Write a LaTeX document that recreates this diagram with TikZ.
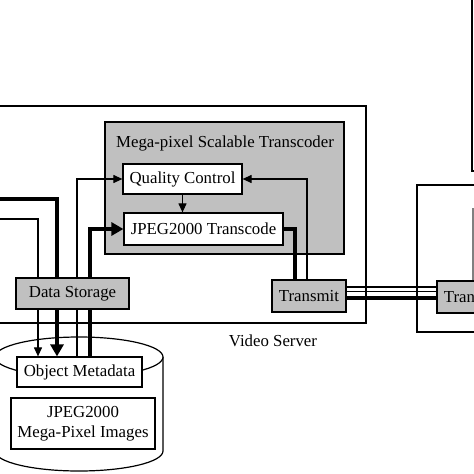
\documentclass[tikz,border=0pt]{standalone}
\usepackage{fontspec}
\setmainfont{Liberation Serif}
\usetikzlibrary{arrows.meta}
\definecolor{boxgray}{RGB}{192,192,192}
\pgfdeclarelayer{back}
\pgfsetlayers{back,main}
\tikzset{
  box/.style={draw=black, line width=1.2pt, fill=white, inner sep=0pt},
  graybox/.style={box, fill=boxgray},
  thinline/.style={line width=1.1pt},
  thickline/.style={line width=4pt},
  thinarrow/.style={thinline, -{Triangle[length=9pt,width=8pt]}},
  thickarrow/.style={thickline, -{Triangle[length=12pt,width=13pt]}},
}
\begin{document}
\begin{tikzpicture}[x=1pt,y=-1pt,font=\fontsize{16.8}{20}\selectfont]
\useasboundingbox (0,0) rectangle (474,474);
\clip (0,0) rectangle (474,474);
\begin{pgfonlayer}{back}
  \node[box, minimum width=376pt, minimum height=217pt] (vs) at (178,214.5) {};
  \node[graybox, minimum width=239pt, minimum height=132pt] (tc) at (224.5,188) {};
  \node[box, minimum width=100pt, minimum height=147pt] (rs) at (467,258.5) {};
  \node[box, minimum width=100pt, minimum height=200pt] (tr) at (522,71) {};
  \node[box, draw=gray, minimum width=100pt, minimum height=88pt] (rg) at (523,253) {};
  \draw[line width=1.2pt, fill=white] (-5,357) -- (-5,451)
     arc[start angle=180, end angle=0, x radius=84, y radius=20] -- (163,357);
  \draw[line width=1.2pt, fill=white] (79,357) ellipse[x radius=84, y radius=20];
\end{pgfonlayer}
\node (tctitle) at (225,143) {Mega-pixel Scalable Transcoder};
\node[box, minimum width=119pt, minimum height=30pt] (qc) at (182.5,179) {Quality Control};
\node[box, minimum width=159pt, minimum height=32pt] (jp) at (203.5,229) {JPEG2000 Transcode};
\node[graybox, minimum width=74pt, minimum height=32pt] (tx) at (309,296) {Transmit};
\node (vslabel) at (273,341) {Video Server};
\node[graybox, minimum width=74pt, minimum height=32pt] (rtx) at (474,297) {Transmit};
\node[box, minimum width=125pt, minimum height=30pt] (om) at (79.5,372) {Object Metadata};
\node[box, minimum width=144pt, minimum height=51pt, align=center] (mp) at (83,423.5) {JPEG2000\\Mega-Pixel Images};
% connectors
\coordinate (in1) at (-5,199);
\coordinate (in2) at (-5,219);
\coordinate (c38) at (38,0);
\coordinate (c57) at (57,0);
\coordinate (c77) at (77,0);
\coordinate (c90) at (90,0);
\coordinate (c295) at (295,0);
\coordinate (c307) at (307,0);
\coordinate (r287) at (0,287);
\coordinate (r291) at (0,291.5);
\coordinate (r297) at (0,297.5);
\draw[thickarrow] (in1) -| (c57 |- om.north);
\draw[thinarrow] (in2) -| (c38 |- om.north);
\draw[thinarrow] (c77 |- om.north) |- (qc.west);
\draw[thickarrow] (c90 |- om.north) |- (jp.west);
\draw[thinarrow] (qc.south) -- (qc.south |- jp.north);
\draw[thinarrow] (c307 |- tx.north) |- (qc.east);
\draw[thickline] (jp.east) -| (c295 |- tx.north);
\draw[thinline] (tx.east |- r287) -- (rtx.west |- r287);
\draw[thinline] (tx.east |- r291) -- (rtx.west |- r291);
\draw[thickline] (tx.east |- r297) -- (rtx.west |- r297);
\node[graybox, minimum width=113pt, minimum height=31pt] (ds) at (72.5,293.5) {Data Storage};
\end{tikzpicture}
\end{document}
